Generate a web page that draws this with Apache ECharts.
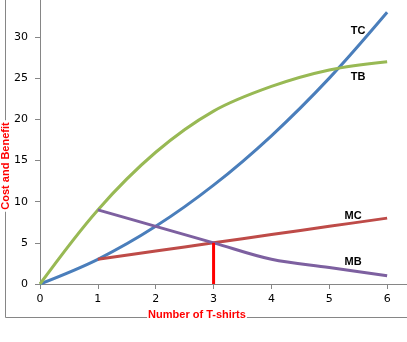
<!DOCTYPE html>
<html>
<head>
<meta charset="utf-8">
<script src="https://cdn.jsdelivr.net/npm/echarts@6/dist/echarts.min.js"></script>
<style>
  html, body { margin: 0; padding: 0; background: #fff; overflow: hidden; width: 407px; height: 342px; }
  #chart { position: absolute; left: 0; top: -5px; width: 445px; height: 347px; }
</style>
</head>
<body>
<div id="chart"></div>
<script>
// Quantity of T-shirts on the x axis
const quantity = [0, 1, 2, 3, 4, 5, 6];
// Total cost and total benefit
const totalCost = [0, 3, 7, 12, 18, 25, 33];
const totalBenefit = [0, 9, 16, 21, 24, 26, 27];
// Marginal cost and marginal benefit (start at the first shirt)
const mcQuantity = [1, 2, 3, 4, 5, 6];
const marginalCost = [3, 4, 5, 6, 7, 8];
const marginalBenefit = [9, 7, 5, 3, 2, 1];
// Optimum where MC meets MB
const optimumQ = 3;
const optimumValue = 5;
// Curve names, written next to the end of each curve
const curveNames = ['TC', 'TB', 'MC', 'MB'];

const axisGray = '#868686';
const font = 'Liberation Sans, Arial, sans-serif';
const dy = 5; // the drawing surface starts 5px above the page top
const smoothness = 0.35;

function pairs(xs, ys) { return xs.map((x, i) => [x, ys[i]]); }

const lastPoints = [
  [quantity[6], totalCost[6]],
  [quantity[6], totalBenefit[6]],
  [mcQuantity[5], marginalCost[5]],
  [mcQuantity[5], marginalBenefit[5]]
];
// label centre relative to the curve end, in px
const labelOffsets = [[-29, 19], [-29, 15], [-34, -2], [-34, -14]];

const chart = echarts.init(document.getElementById('chart'), null, { renderer: 'canvas' });

chart.setOption({
  animation: false,
  backgroundColor: '#fff',
  grid: { left: 40, right: 0, top: 0.8, bottom: 58, containLabel: false },
  xAxis: {
    type: 'value', min: 0, max: 7, interval: 1,
    axisLine: { show: true, lineStyle: { color: axisGray, width: 1 } },
    axisTick: { show: true, length: 5, lineStyle: { color: axisGray } },
    axisLabel: { color: '#000', fontSize: 11, fontFamily: 'DejaVu Sans, sans-serif', margin: 10, showMaxLabel: false },
    splitLine: { show: false }
  },
  yAxis: {
    type: 'value', min: 0, max: 35, interval: 5,
    axisLine: { show: true, lineStyle: { color: axisGray, width: 1 } },
    axisTick: { show: true, length: 5, lineStyle: { color: axisGray } },
    axisLabel: { color: '#000', fontSize: 11, fontFamily: 'DejaVu Sans, sans-serif', margin: 12, showMaxLabel: false },
    splitLine: { show: false }
  },
  graphic: [
    { type: 'line', shape: { x1: 5.5, y1: 0, x2: 5.5, y2: 317.5 + dy }, style: { stroke: axisGray, lineWidth: 1 } },
    { type: 'line', shape: { x1: 5.5, y1: 317.5 + dy, x2: 445, y2: 317.5 + dy }, style: { stroke: axisGray, lineWidth: 1 } },
    {
      type: 'text', x: 6, y: 166 + dy, rotation: Math.PI / 2,
      style: {
        text: 'Cost and Benefit', fill: '#ff0000', font: 'bold 11px ' + font,
        textAlign: 'center', textVerticalAlign: 'middle', backgroundColor: '#fff', padding: [0, 2]
      }
    },
    {
      type: 'text', x: 197, y: 315 + dy,
      style: {
        text: 'Number of T-shirts', fill: '#ff0000', font: 'bold 11px ' + font,
        textAlign: 'center', textVerticalAlign: 'middle', backgroundColor: '#fff', padding: [0, 1]
      }
    }
  ],
  series: [
    {
      name: 'TC', type: 'line', smooth: smoothness, symbol: 'none',
      lineStyle: { color: '#4a7ebb', width: 3 },
      data: pairs(quantity, totalCost)
    },
    {
      name: 'TB', type: 'line', smooth: smoothness, symbol: 'none',
      lineStyle: { color: '#98b954', width: 3 },
      data: pairs(quantity, totalBenefit)
    },
    {
      name: 'MC', type: 'line', smooth: smoothness, symbol: 'none',
      lineStyle: { color: '#be4b48', width: 3 },
      data: pairs(mcQuantity, marginalCost)
    },
    {
      name: 'MB', type: 'line', smooth: smoothness, symbol: 'none',
      lineStyle: { color: '#7d60a0', width: 3 },
      data: pairs(mcQuantity, marginalBenefit)
    },
    {
      name: 'Optimum', type: 'line', symbol: 'none',
      lineStyle: { color: '#ff0000', width: 3 },
      data: [[optimumQ, 0], [optimumQ, optimumValue]]
    },
    {
      name: 'Curve names', type: 'scatter', symbolSize: 0,
      itemStyle: { color: '#000', opacity: 1 }, silent: true,
      data: lastPoints.map((p, i) => ({
        value: p,
        label: {
          show: true, formatter: curveNames[i],
          position: labelOffsets[i],
          align: 'center', verticalAlign: 'middle',
          color: '#000', fontWeight: 'bold', fontSize: 11, fontFamily: font
        }
      }))
    }
  ]
});
</script>
</body>
</html>
